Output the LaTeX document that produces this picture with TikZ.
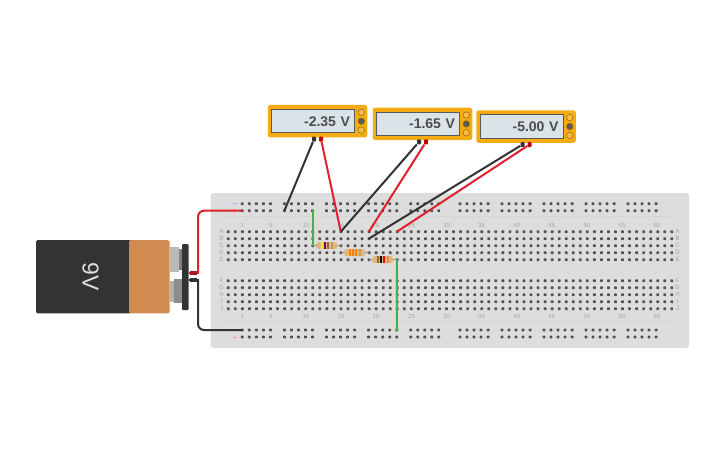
\documentclass[tikz,border=0pt]{standalone}
\usepackage{fontspec}
\setmainfont{Liberation Sans}
\usepackage{tikz}
\usetikzlibrary{positioning}

\definecolor{boardgray}{HTML}{DDDDDD}
\definecolor{holegray}{HTML}{505050}
\definecolor{labelgray}{HTML}{A6A6A6}
\definecolor{batblack}{HTML}{333333}
\definecolor{batorange}{HTML}{D08C50}
\definecolor{meteryellow}{HTML}{F5AB14}
\definecolor{screenblue}{HTML}{DAE4E8}
\definecolor{wirered}{HTML}{E0202A}
\definecolor{wireblack}{HTML}{333333}
\definecolor{wiregreen}{HTML}{3DB54A}
\definecolor{restan}{HTML}{DDB97F}

\tikzset{
    wire/.style={line width=2pt},
    hole/.style={fill=holegray, minimum size=2.8pt, inner sep=0pt, rectangle, rounded corners=0.7pt},
    boardlabel/.style={text=labelgray, font=\fontsize{6}{6}\selectfont, inner sep=0pt},
    meterbox/.style={draw=none, fill=meteryellow, rounded corners=2.5pt, minimum width=99.5pt, minimum height=32.5pt, inner sep=0pt},
    meterscreen/.style={draw=black!65, line width=1pt, fill=screenblue, minimum width=83pt, minimum height=23.5pt, inner sep=0pt, align=right, text=black!70, font=\bfseries\fontsize{14}{15}\selectfont},
    meterknob/.style={circle, draw=black!40!meteryellow, line width=0.5pt, fill=meteryellow!80!white, minimum size=6.5pt, inner sep=0pt},
    probe/.style={fill=#1, minimum width=4pt, minimum height=5pt, inner sep=0pt, rounded corners=1pt},
    resbody/.style={fill=restan, rounded corners=2.5pt, minimum width=21pt, minimum height=7pt, inner sep=0pt},
    resband/.style={fill=#1, minimum width=2.2pt, minimum height=7pt, inner sep=0pt}
}

\begin{document}
\begin{tikzpicture}[x=1pt, y=-1pt]
    \useasboundingbox[fill=white] (0,0) rectangle (725,453);

    % Breadboard
    \fill[boardgray, rounded corners=3pt] (210.5,193) rectangle (689,348);
    \draw[black!16, line width=0.5pt] (223,216) -- (678,216) (223,321) -- (678,321);
    \draw[black!16, line width=0.5pt] (450,200) -- (450,216);

    % Rails
    \foreach \g in {242.3,284.4,326.5,368.6,410.7,460,502,544,586,628}
        \foreach \i in {0,...,4}
            \foreach \y in {203.7,210.7,330,337}
                \node[hole] at (\g+7.03*\i,\y) {};

    % Main holes
    \foreach \c in {0,...,63}
        \foreach \y in {231.7,238.7,245.7,252.7,259.7,280.7,287.7,294.7,301.7,308.7}
            \node[hole] at (228.3+7.04*\c,\y) {};

    % Column numbers
    \foreach \n/\x in {1/242.3,5/271,10/306,15/341,20/376,25/411.5,30/446.5,35/481.5,40/516.5,45/551.5,50/587,55/622,60/657} {
        \node[boardlabel] at (\x,225) {\n};
        \node[boardlabel] at (\x,316.7) {\n};
    }

    % Row letters
    \foreach \l/\y in {A/231.7,B/238.7,C/245.7,D/252.7,E/259.7,F/280.7,G/287.7,H/294.7,I/301.7,J/308.7} {
        \node[boardlabel] at (221.5,\y) {\l};
        \node[boardlabel] at (677.5,\y) {\l};
    }

    % Rail signs
    \draw[blue!35, line width=0.7pt] (232.5,203.7) -- (237,203.7);
    \draw[blue!35, line width=0.7pt] (232.5,330) -- (237,330);
    \draw[red!35, line width=0.7pt] (232.5,210.7) -- (237,210.7) (234.7,208.4) -- (234.7,213);
    \draw[red!35, line width=0.7pt] (232.5,337) -- (237,337) (234.7,334.7) -- (234.7,339.3);

    % Named board holes
    \coordinate (railtop1) at (242.3,210.7);
    \coordinate (railtop7) at (284.4,210.7);
    \coordinate (railtop11) at (312.7,209.7);
    \coordinate (railbot1) at (242.3,330);
    \coordinate (railbot23) at (397,331);
    \coordinate (holeA17) at (340.8,231.7);
    \coordinate (holeA21) at (368.8,231.7);
    \coordinate (holeB21) at (368.8,238.7);
    \coordinate (holeA25) at (396.9,231.7);
    \coordinate (holeC13) at (312.7,245.7);
    \coordinate (holeC17) at (340.8,245.7);
    \coordinate (holeD17) at (340.8,252.7);
    \coordinate (holeD21) at (368.8,252.7);
    \coordinate (holeE21) at (368.8,259.7);
    \coordinate (holeE25) at (396.9,259.7);

    % Battery
    \fill[batblack, rounded corners=1.5pt] (36,240) rectangle (131,313.3);
    \fill[batorange, rounded corners=1.5pt] (129,240) rectangle (169.5,313.3);
    \fill[batorange] (130,240) rectangle (134,313.3);
    \node[rotate=-90, text=black!12, font=\fontsize{23}{23}\selectfont, inner sep=0pt] (batlabel) at (90.5,276.7) {9V};
    \fill[black!27] (170,247) rectangle (179,272);
    \fill[black!50] (179,249) rectangle (182,270);
    \fill[black!30] (170,280.7) rectangle (174,302);
    \fill[black!45] (174,279) rectangle (182,303);
    \fill[batblack, rounded corners=1pt] (182,244) rectangle (188.5,310);

    % Battery leads
    \coordinate (leadred) at (188.5,273);
    \coordinate (leadblack) at (188.5,280);
    \draw[wirered, line width=2.2pt] (leadred) -- ++(10,0);
    \fill[wirered!75!black] (190,271) rectangle (197,275);
    \fill[wireblack] (190,278) rectangle (197,282);
    \draw[wireblack, line width=2.2pt] (leadblack) -- ++(10,0);
    \draw[wire, wirered, rounded corners=6pt] (198,273) |- (railtop1);
    \draw[wire, wireblack, rounded corners=6pt] (198,280) |- (railbot1);

    % Resistors
    \foreach \a/\b/\y/\cx/\ca/\cb/\cc in {holeC13/holeC17/245.7/326.7/yellow/violet/brown!80!black, holeD17/holeD21/252.7/354.7/orange/orange/orange, holeE21/holeE25/259.7/382.7/brown!80!black/black/red} {
        \draw[black!45, line width=1pt] (\a) -- (\b);
        \node[resbody] (res\a) at (\cx,\y) {};
        \node[resband=\ca] at (\cx-5,\y) {};
        \node[resband=\cb] at (\cx-2,\y) {};
        \node[resband=\cc] at (\cx+1,\y) {};
        \node[resband=brown!60!restan] at (\cx+5,\y) {};
    }

    % Green jumpers
    \draw[wire, wiregreen] (railtop11) -- (holeC13);
    \draw[wire, wiregreen] (holeE25) -- (railbot23);

    % Multimeters
    \foreach \m/\x/\y/\val in {one/317.5/121.2/-2.35 V, two/422.5/123.9/-1.65 V, three/526/126.5/-5.00 V} {
        \node[meterbox] (meter\m) at (\x,\y) {};
        \node[meterscreen, text width=74pt] (screen\m) at (\x-4.5,\y) {\val};
        \node[meterknob] at (\x+43.8,\y-8.9) {};
        \node[meterknob, fill=black!65] at (\x+43.8,\y) {};
        \node[meterknob] at (\x+43.8,\y+8.9) {};
        \node[probe=wireblack] (black\m) at (\x-3.5,\y+18) {};
        \node[probe=red!75!black] (red\m) at (\x+3.5,\y+18) {};
    }

    % Meter wires
    \draw[wire, wireblack] (blackone) -- (railtop7);
    \draw[wire, wirered] (redone) -- (holeA17);
    \draw[wire, wireblack] (blacktwo) -- (holeA17);
    \draw[wire, wirered] (redtwo) -- (holeA21);
    \draw[wire, wireblack] (blackthree) -- (holeB21);
    \draw[wire, wirered] (redthree) -- (holeA25);
\end{tikzpicture}
\end{document}
